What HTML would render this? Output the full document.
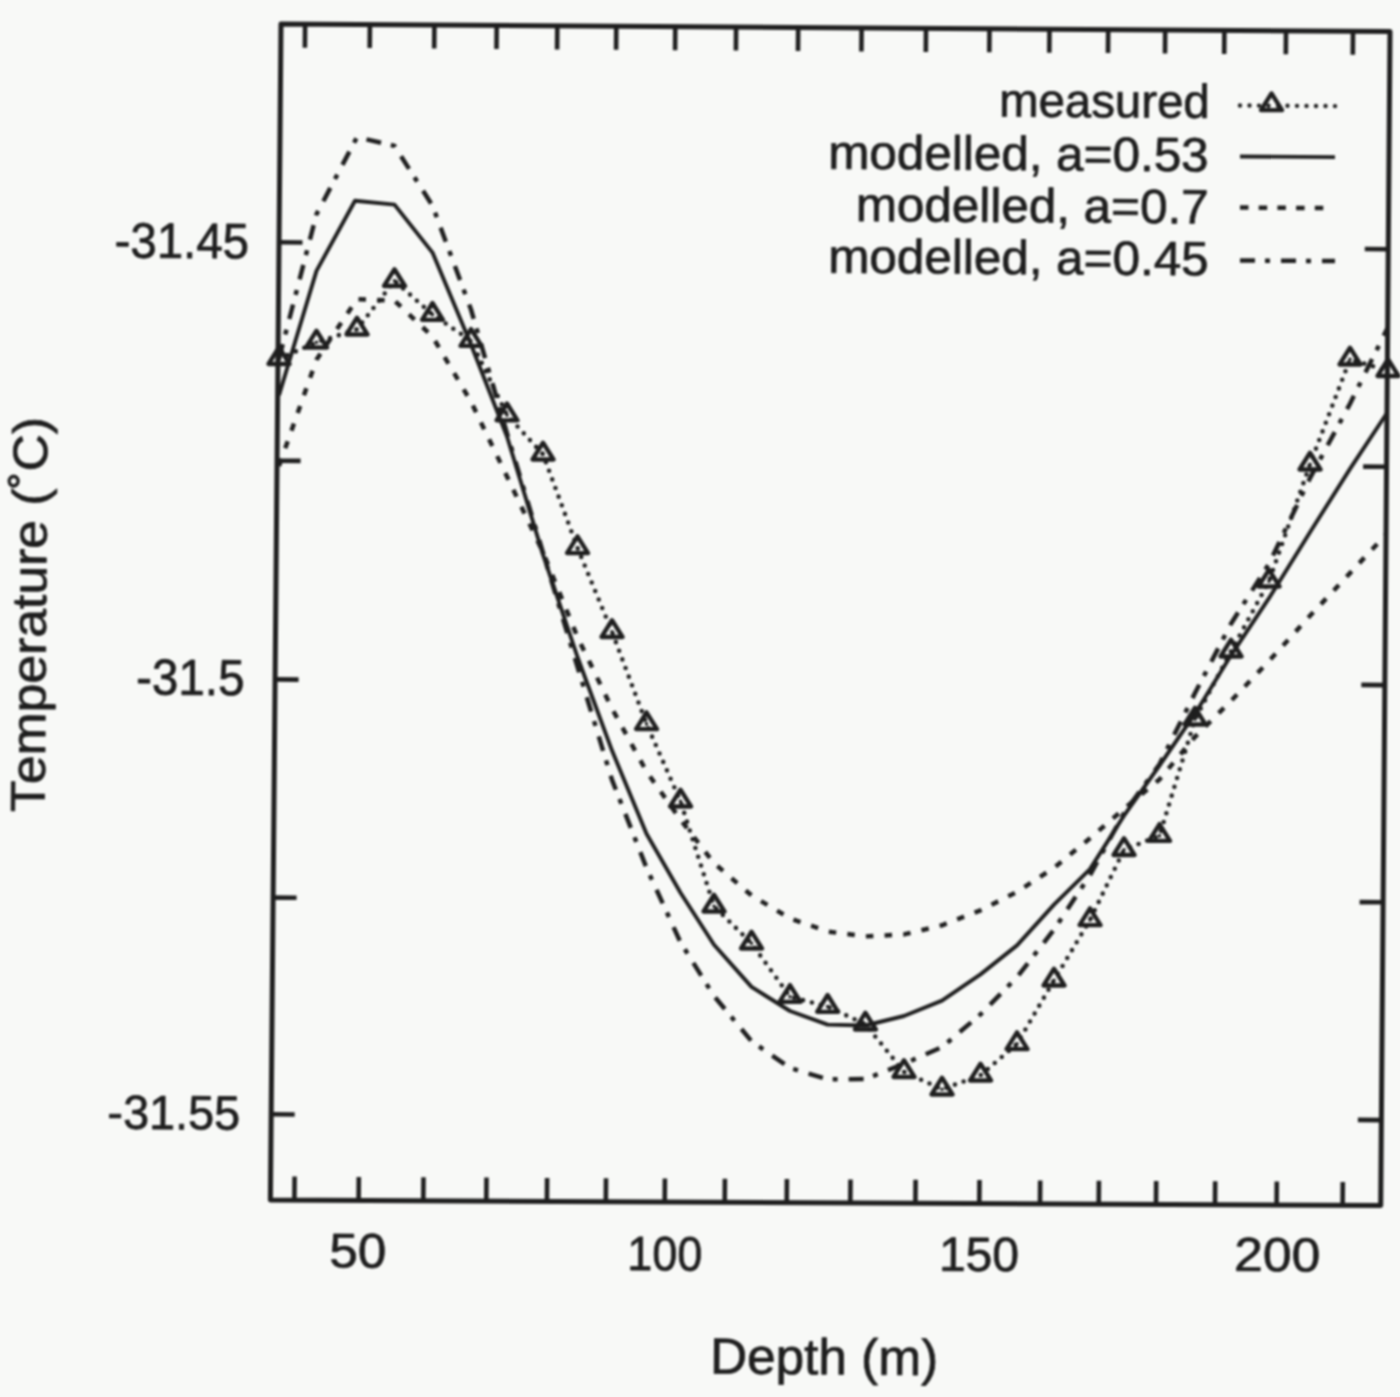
<!DOCTYPE html>
<html><head><meta charset="utf-8"><title>Temperature vs Depth</title>
<style>html,body{margin:0;padding:0;background:#f8f9f7;overflow:hidden;} svg{display:block;}</style></head>
<body><svg width="1400" height="1397" viewBox="0 0 1400 1397">
<defs><filter id="b" x="0" y="0" width="100%" height="100%" color-interpolation-filters="sRGB"><feGaussianBlur stdDeviation="1.0"/></filter></defs>
<g filter="url(#b)">
<rect x="0" y="0" width="1400" height="1397" fill="#f8f9f7"/>
<g fill="none" stroke="#1e1e1e" stroke-linejoin="round">
<polyline points="279.0,395.2 316.5,270.9 355.0,200.7 394.5,204.6 432.5,252.6 471.0,344.5 507.0,436.5 543.0,554.6 577.5,657.0 612.0,750.6 646.5,833.7 680.5,892.8 714.0,944.7 751.5,986.9 790.0,1011.0 827.6,1024.6 865.4,1025.5 904.0,1016.0 942.0,1000.6 980.5,974.4 1017.0,945.4 1054.0,904.6 1090.0,869.1 1124.0,815.6 1159.5,765.5 1195.0,713.7 1231.0,655.3 1269.0,598.2 1310.0,532.2 1350.0,468.9 1387.0,413.0" stroke-width="3.9"/>
<polyline points="279.0,465.9 316.5,359.7 357.0,299.1 394.5,300.6 432.5,336.6 471.0,401.7 507.0,476.5 543.0,552.2 577.5,637.1 612.0,708.5 646.5,771.5 680.5,819.7 714.0,863.1 751.5,895.4 790.0,918.4 827.6,931.5 865.4,936.4 904.0,934.4 942.0,925.3 980.5,910.3 1017.0,891.9 1054.0,867.8 1090.0,838.3 1124.0,808.8 1159.5,779.4 1195.0,736.8 1231.0,700.9 1269.0,661.0 1310.0,615.8 1350.0,573.1 1386.0,534.5" stroke-width="4.5" stroke-dasharray="7.5 11.2"/>
<polyline points="279.0,358.7 316.5,214.2 357.0,137.2 394.5,145.9 432.5,205.7 471.0,309.5 507.0,433.5 543.0,552.6 577.5,666.8 612.0,779.9 646.5,867.8 680.5,942.3 714.0,996.0 751.5,1041.2 790.0,1067.9 827.6,1079.4 865.4,1079.1 904.0,1063.8 942.0,1047.1 980.5,1014.4 1017.0,977.2 1054.0,929.6 1090.0,875.1 1124.0,813.2 1159.5,764.2 1195.0,693.1 1231.0,623.7 1269.0,563.8 1310.0,478.1 1350.0,403.7 1387.7,327.7" stroke-width="4.5" stroke-dasharray="15 10 5 11"/>
<polyline points="279.0,358.8 316.5,342.3 357.0,329.3 394.5,280.8 432.5,314.6 471.0,340.7 507.0,415.1 543.0,454.3 577.5,547.9 612.0,631.8 646.5,723.9 680.5,801.3 714.0,906.3 751.5,943.3 790.0,996.7 827.6,1006.6 865.4,1024.3 904.0,1071.8 942.0,1089.3 980.5,1075.3 1017.0,1043.9 1054.0,980.3 1090.0,919.9 1124.0,849.8 1159.5,835.7 1195.0,719.3 1231.0,651.3 1269.0,581.3 1310.0,464.3 1350.0,359.3 1388.0,370.8" stroke-width="4.6" stroke-linecap="round" stroke-dasharray="0 9.2"/>
</g>
<path d="M279.0,347.2 L289.5,364.0 L268.5,364.0 Z M316.5,330.7 L327.0,347.5 L306.0,347.5 Z M357.0,317.7 L367.5,334.5 L346.5,334.5 Z M394.5,269.2 L405.0,286.0 L384.0,286.0 Z M432.5,303.0 L443.0,319.8 L422.0,319.8 Z M471.0,329.1 L481.5,345.9 L460.5,345.9 Z M507.0,403.5 L517.5,420.3 L496.5,420.3 Z M543.0,442.7 L553.5,459.5 L532.5,459.5 Z M577.5,536.3 L588.0,553.1 L567.0,553.1 Z M612.0,620.2 L622.5,637.0 L601.5,637.0 Z M646.5,712.3 L657.0,729.1 L636.0,729.1 Z M680.5,789.7 L691.0,806.5 L670.0,806.5 Z M714.0,894.7 L724.5,911.5 L703.5,911.5 Z M751.5,931.7 L762.0,948.5 L741.0,948.5 Z M790.0,985.1 L800.5,1001.9 L779.5,1001.9 Z M827.6,995.0 L838.1,1011.8 L817.1,1011.8 Z M865.4,1012.7 L875.9,1029.5 L854.9,1029.5 Z M904.0,1060.2 L914.5,1077.0 L893.5,1077.0 Z M942.0,1077.7 L952.5,1094.5 L931.5,1094.5 Z M980.5,1063.7 L991.0,1080.5 L970.0,1080.5 Z M1017.0,1032.3 L1027.5,1049.1 L1006.5,1049.1 Z M1054.0,968.7 L1064.5,985.5 L1043.5,985.5 Z M1090.0,908.3 L1100.5,925.1 L1079.5,925.1 Z M1124.0,838.2 L1134.5,855.0 L1113.5,855.0 Z M1159.5,824.1 L1170.0,840.9 L1149.0,840.9 Z M1195.0,707.7 L1205.5,724.5 L1184.5,724.5 Z M1231.0,639.7 L1241.5,656.5 L1220.5,656.5 Z M1269.0,569.7 L1279.5,586.5 L1258.5,586.5 Z M1310.0,452.7 L1320.5,469.5 L1299.5,469.5 Z M1350.0,347.7 L1360.5,364.5 L1339.5,364.5 Z M1388.0,359.2 L1398.5,376.0 L1377.5,376.0 Z" fill="none" stroke="#1e1e1e" stroke-width="4.3" stroke-linejoin="round"/>
<path d="M279.0,358.8 h0.01 M316.5,342.3 h0.01 M357.0,329.3 h0.01 M394.5,280.8 h0.01 M432.5,314.6 h0.01 M471.0,340.7 h0.01 M507.0,415.1 h0.01 M543.0,454.3 h0.01 M577.5,547.9 h0.01 M612.0,631.8 h0.01 M646.5,723.9 h0.01 M680.5,801.3 h0.01 M714.0,906.3 h0.01 M751.5,943.3 h0.01 M790.0,996.7 h0.01 M827.6,1006.6 h0.01 M865.4,1024.3 h0.01 M904.0,1071.8 h0.01 M942.0,1089.3 h0.01 M980.5,1075.3 h0.01 M1017.0,1043.9 h0.01 M1054.0,980.3 h0.01 M1090.0,919.9 h0.01 M1124.0,849.8 h0.01 M1159.5,835.7 h0.01 M1195.0,719.3 h0.01 M1231.0,651.3 h0.01 M1269.0,581.3 h0.01 M1310.0,464.3 h0.01 M1350.0,359.3 h0.01 M1388.0,370.8 h0.01" fill="none" stroke="#1e1e1e" stroke-width="3.6" stroke-linecap="round"/>
<polygon points="281.0,24.0 1390.0,31.5 1380.7,1205.6 270.4,1200.0" fill="none" stroke="#1e1e1e" stroke-width="5.0" stroke-linejoin="round"/>
<path d="M294.4,1200.1 L294.6,1176.6 M358.6,1200.4 L358.8,1176.9 M423.3,1200.8 L423.5,1177.3 M486.3,1201.1 L486.5,1177.6 M546.9,1201.4 L547.1,1177.9 M605.8,1201.7 L606.0,1178.2 M664.7,1202.0 L664.9,1178.5 M724.7,1202.3 L724.9,1178.8 M786.7,1202.6 L786.9,1179.1 M850.3,1202.9 L850.5,1179.4 M915.4,1203.3 L915.6,1179.8 M979.3,1203.6 L979.5,1180.1 M1040.0,1203.9 L1040.2,1180.4 M1098.7,1204.2 L1098.9,1180.7 M1156.0,1204.5 L1156.2,1181.0 M1215.0,1204.8 L1215.2,1181.3 M1276.6,1205.1 L1276.8,1181.6 M1342.6,1205.4 L1342.8,1181.9 M305.1,24.2 L304.9,47.7 M369.9,24.6 L369.7,48.1 M434.4,25.0 L434.2,48.5 M496.7,25.5 L496.5,49.0 M557.3,25.9 L557.1,49.4 M616.3,26.3 L616.1,49.8 M675.3,26.7 L675.1,50.2 M736.1,27.1 L735.9,50.6 M798.2,27.5 L798.0,51.0 M861.6,27.9 L861.4,51.4 M926.0,28.4 L925.8,51.9 M989.5,28.8 L989.3,52.3 M1049.5,29.2 L1049.3,52.7 M1108.2,29.6 L1108.0,53.1 M1165.2,30.0 L1165.0,53.5 M1224.4,30.4 L1224.2,53.9 M1286.0,30.8 L1285.8,54.3 M1353.0,31.2 L1352.8,54.7 M279.0,242.3 L302.5,242.5 M277.1,460.7 L300.6,460.9 M275.1,679.4 L298.6,679.6 M273.1,897.6 L296.6,897.8 M271.2,1114.3 L294.7,1114.5 M1388.3,249.2 L1364.8,249.0 M1386.6,466.8 L1363.1,466.6 M1384.8,685.1 L1361.3,684.9 M1383.1,902.3 L1359.6,902.1 M1381.4,1120.1 L1357.9,1119.9" stroke="#1e1e1e" stroke-width="4.6" fill="none"/>
<g font-family="'Liberation Sans', Arial, Helvetica, sans-serif" fill="#1e1e1e" stroke="#1e1e1e" stroke-width="0.8" stroke-linejoin="round">
<text transform="translate(249.00 258.50) rotate(0.410) scale(0.9302 0.9789)" text-anchor="end" font-size="51">-31.45</text>
<text transform="translate(244.40 695.20) rotate(0.410) scale(0.9336 0.9930)" text-anchor="end" font-size="51">-31.5</text>
<text transform="translate(240.20 1129.60) rotate(0.410) scale(0.9191 0.9420)" text-anchor="end" font-size="51">-31.55</text>
<text transform="translate(357.70 1267.50) rotate(0.410) scale(1.0051 0.9521)" text-anchor="middle" font-size="51">50</text>
<text transform="translate(664.80 1270.30) rotate(0.410) scale(0.8810 0.9460)" text-anchor="middle" font-size="51">100</text>
<text transform="translate(978.90 1271.00) rotate(0.410) scale(0.9403 0.9454)" text-anchor="middle" font-size="51">150</text>
<text transform="translate(1277.10 1271.10) rotate(0.410) scale(1.0132 0.9357)" text-anchor="middle" font-size="51">200</text>
<text transform="translate(824.00 1374.30) rotate(0.410) scale(1.0055 0.9910)" text-anchor="middle" font-size="51">Depth (m)</text>
<text transform="translate(46.00 614.60) rotate(-89.590) scale(1.0125 0.9527)" text-anchor="middle" font-size="51">T<tspan dx="-3.5">e</tspan>mperature (&#730;C)</text>
<text transform="translate(1209.70 118.00) rotate(0.410) scale(0.9478 0.9500)" text-anchor="end" font-size="50">measured</text>
<text transform="translate(1208.60 171.50) rotate(0.410) scale(0.9885 0.9621)" text-anchor="end" font-size="50">modelled, a=0.53</text>
<text transform="translate(1208.60 223.50) rotate(0.410) scale(0.9885 0.9621)" text-anchor="end" font-size="50">modelled, a=0.7</text>
<text transform="translate(1208.60 275.40) rotate(0.410) scale(0.9885 0.9621)" text-anchor="end" font-size="50">modelled, a=0.45</text>
</g>
<g fill="none" stroke="#1e1e1e">
<line x1="1240" y1="105.5" x2="1336" y2="106.1" stroke-width="4.4" stroke-linecap="round" stroke-dasharray="0 9.5"/>
<line x1="1240" y1="156.5" x2="1335" y2="157.1" stroke-width="3.9"/>
<line x1="1240" y1="207.5" x2="1326" y2="208.1" stroke-width="4.5" stroke-dasharray="8.5 10.2"/>
<line x1="1240" y1="260.5" x2="1335" y2="261.1" stroke-width="4.5" stroke-dasharray="15 10 5 11"/>
</g>
<path d="M1271.5,93.4 L1282.0,110.2 L1261.0,110.2 Z" fill="none" stroke="#1e1e1e" stroke-width="4.3" stroke-linejoin="round"/>
</g>
</svg></body></html>
